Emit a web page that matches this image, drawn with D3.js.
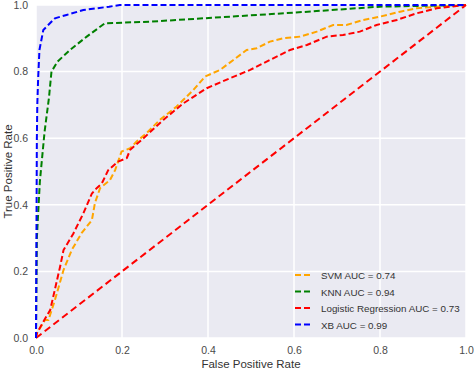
<!DOCTYPE html>
<html>
<head>
<meta charset="utf-8">
<script src="https://cdn.jsdelivr.net/npm/d3@7"></script>
<style>
  body { margin: 0; background: #fff; }
  text { font-family: "Liberation Sans", Arial, sans-serif; }
</style>
</head>
<body>
<div id="chart"></div>
<script>
// ROC curves: [fpr, tpr]
var svmRoc = [[0,0],[0.002,0.014],[0.021,0.054],[0.029,0.054],[0.044,0.114],[0.064,0.204],[0.083,0.264],
  [0.106,0.315],[0.13,0.354],[0.137,0.405],[0.149,0.45],[0.172,0.474],[0.184,0.504],[0.199,0.56],
  [0.219,0.57],[0.234,0.59],[0.257,0.615],[0.288,0.655],[0.327,0.695],[0.366,0.745],[0.393,0.785],
  [0.428,0.805],[0.459,0.835],[0.49,0.865],[0.513,0.87],[0.544,0.89],[0.575,0.9],[0.614,0.905],
  [0.653,0.92],[0.691,0.94],[0.722,0.94],[0.761,0.955],[0.8,0.965],[0.847,0.98],[0.885,0.99],
  [0.932,0.995],[1,1]];
var knnRoc = [[0,0],[0.002,0.3],[0.009,0.47],[0.02,0.62],[0.03,0.72],[0.036,0.8],[0.05,0.83],
  [0.079,0.865],[0.118,0.905],[0.16,0.945],[0.2,0.947],[0.265,0.95],[0.6,0.977],[0.8,0.995],[1,1]];
var lrRoc = [[0,0],[0.002,0.014],[0.017,0.049],[0.033,0.084],[0.056,0.214],[0.064,0.264],[0.087,0.314],
  [0.11,0.374],[0.13,0.434],[0.141,0.45],[0.153,0.464],[0.168,0.504],[0.191,0.53],[0.211,0.54],
  [0.219,0.565],[0.25,0.6],[0.296,0.655],[0.343,0.705],[0.397,0.75],[0.451,0.78],[0.498,0.805],
  [0.544,0.835],[0.591,0.865],[0.63,0.88],[0.676,0.905],[0.714,0.91],[0.753,0.92],[0.792,0.94],
  [0.839,0.955],[0.885,0.975],[0.932,0.99],[1,1]];
var xbRoc = [[0,0],[0.001,0.3],[0.002,0.6],[0.003,0.7],[0.005,0.78],[0.008,0.865],[0.017,0.925],
  [0.044,0.96],[0.071,0.97],[0.11,0.985],[0.17,0.995],[0.195,1],[1,1]];
var chanceLine = [[0,0],[1,1]];

var seriesNames = ["SVM AUC = 0.74", "KNN AUC = 0.94", "Logistic Regression AUC = 0.73", "XB AUC = 0.99"];
var seriesColors = ["orange", "green", "red", "blue"];
var seriesData = [svmRoc, knnRoc, lrRoc, xbRoc];
var tickValues = [0, 0.2, 0.4, 0.6, 0.8, 1.0];

var width = 474, height = 372;
var margin = {top: 5, right: 8, bottom: 34, left: 36};

var svg = d3.select("#chart").append("svg")
    .attr("width", width)
    .attr("height", height);

var x = d3.scaleLinear().domain([0, 1]).range([margin.left, width - margin.right]);
var y = d3.scaleLinear().domain([0, 1]).range([height - margin.bottom, margin.top]);

// seaborn darkgrid background
svg.append("rect")
    .attr("x", x(0)).attr("y", y(1))
    .attr("width", x(1) - x(0)).attr("height", y(0) - y(1))
    .attr("fill", "#EAEAF2");

svg.append("g").selectAll("line").data(tickValues).enter().append("line")
    .attr("x1", function(d) { return x(d); }).attr("x2", function(d) { return x(d); })
    .attr("y1", y(0)).attr("y2", y(1))
    .attr("stroke", "#fff").attr("stroke-width", 1.5);
svg.append("g").selectAll("line").data(tickValues).enter().append("line")
    .attr("y1", function(d) { return y(d); }).attr("y2", function(d) { return y(d); })
    .attr("x1", x(0)).attr("x2", x(1))
    .attr("stroke", "#fff").attr("stroke-width", 1.5);

var xAxis = svg.append("g")
    .attr("transform", "translate(0," + y(0) + ")")
    .call(d3.axisBottom(x).tickValues(tickValues).tickFormat(d3.format(".1f")).tickSize(0).tickPadding(9));
var yAxis = svg.append("g")
    .attr("transform", "translate(" + x(0) + ",0)")
    .call(d3.axisLeft(y).tickValues(tickValues).tickFormat(d3.format(".1f")).tickSize(0).tickPadding(8));
[xAxis, yAxis].forEach(function(a) {
  a.select(".domain").remove();
  a.selectAll("text").attr("fill", "#4a4a4a").style("font-size", "10.5px")
      .style("font-family", "Liberation Sans, Arial, sans-serif");
});

svg.append("text")
    .attr("x", (x(0) + x(1)) / 2).attr("y", 368)
    .attr("text-anchor", "middle")
    .attr("fill", "#333").style("font-size", "11.5px")
    .text("False Positive Rate");
svg.append("text")
    .attr("transform", "translate(12," + (y(0) + y(1)) / 2 + ") rotate(-90)")
    .attr("text-anchor", "middle")
    .attr("fill", "#333").style("font-size", "11.5px")
    .text("True Positive Rate");

var line = d3.line()
    .x(function(d) { return x(d[0]); })
    .y(function(d) { return y(d[1]); });

var plot = svg.append("g");
plot.append("path")
    .datum(chanceLine)
    .attr("d", line)
    .attr("fill", "none")
    .attr("stroke", "red")
    .attr("stroke-width", 2)
    .attr("stroke-dasharray", "7,4");

plot.selectAll("path.roc").data(seriesData).enter().append("path")
    .attr("class", "roc")
    .attr("d", line)
    .attr("fill", "none")
    .attr("stroke", function(d, i) { return seriesColors[i]; })
    .attr("stroke-width", 2)
    .attr("stroke-dasharray", "6,3");

// legend, no frame
var legend = svg.append("g").attr("transform", "translate(295,275)");
var item = legend.selectAll("g").data(seriesNames).enter().append("g")
    .attr("transform", function(d, i) { return "translate(0," + i * 16.5 + ")"; });
item.append("line")
    .attr("x1", 0).attr("x2", 18).attr("y1", 0).attr("y2", 0)
    .attr("stroke", function(d, i) { return seriesColors[i]; })
    .attr("stroke-width", 2)
    .attr("stroke-dasharray", "6,3");
item.append("text")
    .attr("x", 26).attr("y", 4)
    .attr("fill", "#333").style("font-size", "9.8px")
    .text(function(d) { return d; });
</script>
</body>
</html>
